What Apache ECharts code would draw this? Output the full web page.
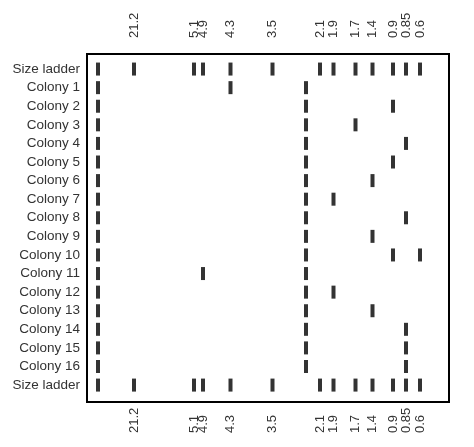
<!DOCTYPE html>
<html>
<head>
<meta charset="utf-8">
<script src="https://cdn.jsdelivr.net/npm/echarts@6/dist/echarts.min.js"></script>
<style>html,body{margin:0;padding:0;background:#fff}#c{width:474px;height:447px}</style>
</head>
<body>
<div id="c"></div>
<script>
// Lane names (top to bottom)
const rowNames = ['Size ladder','Colony 1','Colony 2','Colony 3','Colony 4','Colony 5','Colony 6','Colony 7','Colony 8','Colony 9','Colony 10','Colony 11','Colony 12','Colony 13','Colony 14','Colony 15','Colony 16','Size ladder'];
// Ladder fragment sizes (kb) and their migration positions
const ladderSizes = ['21.2','5.1','4.9','4.3','3.5','2.1','1.9','1.7','1.4','0.9','0.85','0.6'];
const ladderPos = [47, 107, 116, 143.5, 185.5, 233, 246.5, 268.5, 285.5, 306, 319, 333];
// Well band (all lanes) and band shared by all colonies
const wellPos = 11;
const commonPos = 219;
// Colony-specific bands, by ladder size
const colonyBands = [
  ['4.3'], ['0.9'], ['1.7'], ['0.85'], ['0.9'], ['1.4'], ['1.9'], ['0.85'],
  ['1.4'], ['0.9','0.6'], ['4.9'], ['1.9'], ['1.4'], ['0.85'], ['0.85'], ['0.85']
];
const xMin = 0, xMax = 362;

const posOf = s => ladderPos[ladderSizes.indexOf(s)];
const bands = [];
[0, rowNames.length - 1].forEach(r => {
  bands.push([wellPos, r]);
  ladderPos.forEach(p => bands.push([p, r]));
});
colonyBands.forEach((list, i) => {
  const r = i + 1;
  bands.push([wellPos, r]);
  bands.push([commonPos, r]);
  list.forEach(s => bands.push([posOf(s), r]));
});

const font = 'Liberation Sans, Arial, sans-serif';
const xLabel = (margin, rot, align) => ({
  show: true, rotate: rot, margin: margin, fontSize: 13, color: '#333', fontFamily: font,
  customValues: ladderPos, hideOverlap: false, align: align, verticalAlign: 'middle',
  formatter: v => { const i = ladderPos.indexOf(v); return i >= 0 ? ladderSizes[i] : ''; }
});

const chart = echarts.init(document.getElementById('c'), null, {renderer: 'canvas'});
chart.setOption({
  animation: false,
  backgroundColor: '#fff',
  grid: {left: 87, right: 25, top: 54, bottom: 45, show: true, borderColor: '#000', borderWidth: 2, backgroundColor: 'transparent', containLabel: false},
  xAxis: [
    {type: 'value', position: 'bottom', min: xMin, max: xMax,
     axisLine: {show: false}, axisTick: {show: false}, splitLine: {show: false},
     axisLabel: xLabel(31, 90, 'left')},
    {type: 'value', position: 'top', min: xMin, max: xMax,
     axisLine: {show: false}, axisTick: {show: false}, splitLine: {show: false},
     axisLabel: xLabel(16, -90, 'left')}
  ],
  yAxis: {
    type: 'value', inverse: true, min: -0.81, max: 17.91,
    axisLine: {show: false}, axisTick: {show: false}, splitLine: {show: false},
    axisLabel: {show: true, margin: 7, fontSize: 13.5, color: '#333', fontFamily: font,
      customValues: rowNames.map((_, i) => i), hideOverlap: false,
      formatter: v => rowNames[v] !== undefined ? rowNames[v] : ''}
  },
  series: [{
    type: 'scatter', xAxisIndex: 0, symbol: 'rect', symbolSize: [4, 13],
    itemStyle: {color: '#000'}, data: bands, silent: true
  }]
});
</script>
</body>
</html>
